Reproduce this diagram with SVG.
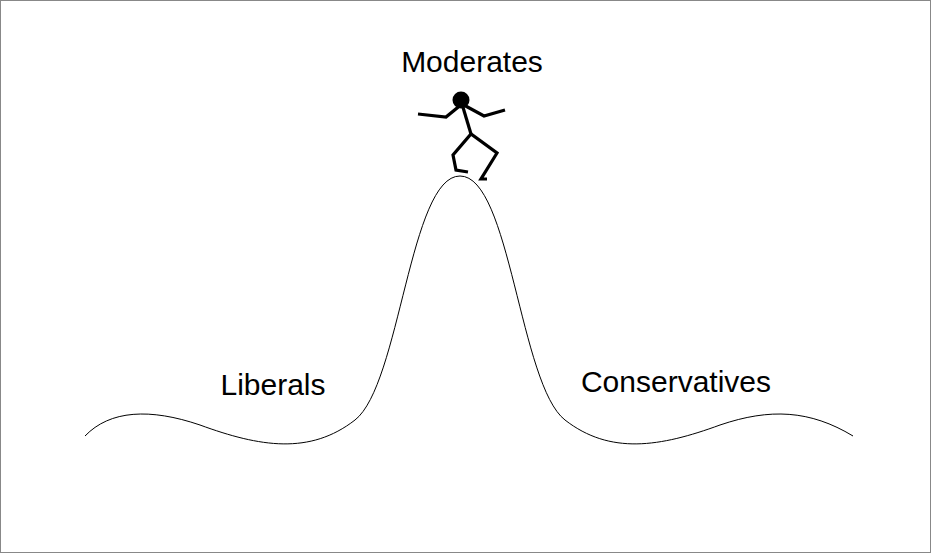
<svg xmlns="http://www.w3.org/2000/svg" width="931" height="553" viewBox="0 0 931 553">
<style>.t{font-family:"Liberation Sans",Arial,sans-serif;font-size:30px;fill:#000}.s{fill:none;stroke:#000;stroke-width:3.2;stroke-linejoin:miter}</style>
<rect x="0.5" y="0.5" width="930" height="552" fill="#fff" stroke="#888"/>
<g id="curve"><path d="M85,436 C110,410 150,408 200,425 C260,447 310,455 355,420 C400,385 410,176 460,176 C510,176 520,385 565,420 C610,455 660,447 720,425 C770,408 810,410 853,436" fill="none" stroke="#000" stroke-width="1"/></g>
<g id="figure">
<circle cx="461" cy="100" r="8.5" fill="#000"/>
<polyline class="s" points="418,114 446,117 462,104 484,116 505,110"/>
<polyline class="s" points="462,104 471,134"/>
<polyline class="s" points="468,172 456,170 453,155 471,134 497,153 481,179 487,179"/>
</g>
<g id="labels">
<text class="t" x="472" y="72" text-anchor="middle">Moderates</text>
<text class="t" x="273" y="395" text-anchor="middle">Liberals</text>
<text class="t" x="676" y="392" text-anchor="middle">Conservatives</text>
</g>
</svg>
